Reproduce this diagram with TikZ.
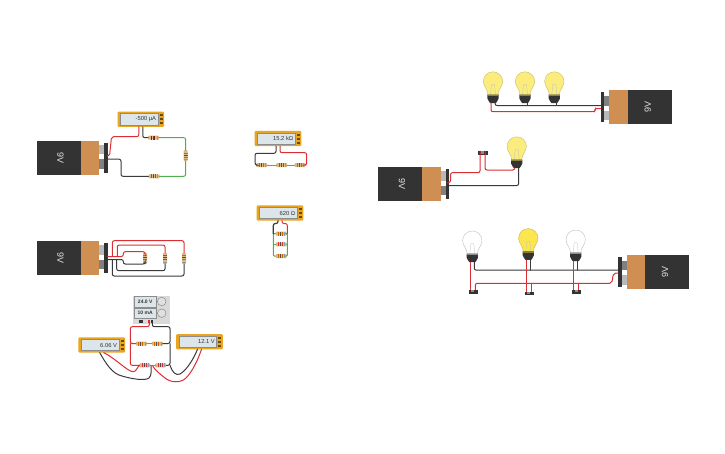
\documentclass[tikz,border=0pt]{standalone}
\usepackage{fontspec}
\setmainfont{Liberation Sans}
\definecolor{corbat}{HTML}{333333}
\definecolor{corcobre}{HTML}{CF8F52}
\definecolor{corverm}{HTML}{DC2F33}
\definecolor{corverde}{HTML}{4DAF50}
\definecolor{corfio}{HTML}{3A3A3A}
\definecolor{corlar}{HTML}{E9A51F}
\definecolor{cortela}{HTML}{DCE6EA}
\definecolor{corres}{HTML}{D9B883}
\definecolor{corluz}{HTML}{FBEC7E}
\definecolor{corforte}{HTML}{FBE64F}
\begin{document}
\begin{tikzpicture}[x=1pt,y=-1pt]

\useasboundingbox (0,0) rectangle (725,453);

\tikzstyle{fio}=[line width=1,rounded corners=2,line cap=round]
\tikzstyle{verm}=[fio,corverm]
\tikzstyle{preto}=[fio,corfio]
\tikzstyle{verde}=[fio,corverde]
\tikzstyle{visor}=[font=\fontsize{5.8}{6}\selectfont,text=black!80,inner sep=0]

\newcommand{\bateria}[4]{
    \begin{scope}[shift={(#2,#3)},rotate=#4]
        \fill[corbat] (0,-17) rectangle (44,17);
        \fill[corcobre] (44,-17) rectangle (62.5,17);
        \fill[black!28] (62.5,-13) rectangle (67.5,-3.5);
        \fill[black!50] (62.5,1.5) rectangle (67.5,11);
        \fill[corbat] (67.5,-15) rectangle (71,15);
        \coordinate (#1-pos) at (71,-1.5);
        \coordinate (#1-neg) at (71,1.5);
        \node[rotate=#4-90,text=white!90!black,font=\fontsize{9}{10}\selectfont,inner sep=0] (#1-txt) at (24,0) {9V};
    \end{scope}
}

\newcommand{\multimetro}[4]{
    \begin{scope}[shift={(#2,#3)}]
        \fill[corlar,rounded corners=1] (-23.3,-7.6) rectangle (23.3,7.6);
        \fill[cortela,draw=black!45,line width=.3] (-20.8,-5.6) rectangle (17,5.6);
        \foreach \b in {-4,0,4}
        {
            \fill[black!55!corlar] (18.8,{\b-1}) rectangle (21.8,{\b+1});
        }
        \coordinate (#1-a) at (-2,7.6);
        \coordinate (#1-b) at (2,7.6);
        \node[visor,anchor=east] (#1-txt) at (15.5,0) {#4};
    \end{scope}
}

\newcommand{\resistor}[5]{
    \begin{scope}[shift={(#2,#3)},rotate=#4]
        \fill[corres,rounded corners=.8] (-5.5,-2) rectangle (5.5,2);
        \fill[#5] (-3,-2) rectangle (-2.2,2);
        \fill[black!70] (-1,-2) rectangle (-.2,2);
        \fill[#5] (.8,-2) rectangle (1.6,2);
        \fill[black!40] (3.2,-2) rectangle (3.9,2);
        \coordinate (#1-a) at (-5.5,0);
        \coordinate (#1-b) at (5.5,0);
    \end{scope}
}

\newcommand{\lampada}[5]{
    \begin{scope}[shift={(#2,#3)}]
        \draw[fill=#4,draw=#5,line width=.4] (-5,13.5) .. controls (-5,8) and (-9.7,5) .. (-9.7,0)
            .. controls (-9.7,-5.4) and (-5.4,-9.7) .. (0,-9.7)
            .. controls (5.4,-9.7) and (9.7,-5.4) .. (9.7,0)
            .. controls (9.7,5) and (5,8) .. (5,13.5) -- cycle;
        \draw[black!25,line width=.3] (-2.5,13) -- (-1.5,3) (2.5,13) -- (1.5,3) (-1.5,3) -- (1.5,3);
        \fill[corbat] (-5.6,13) -- (5.6,13) -- (5.6,17) .. controls (5.6,19) and (3.5,19.5) .. (3,21.5) -- (-3,21.5) .. controls (-3.5,19.5) and (-5.6,19) .. (-5.6,17) -- cycle;
        \fill[#4!55!black] (-5.6,13) rectangle (5.6,14.5);
        \coordinate (#1-a) at (-2,21.5);
        \coordinate (#1-b) at (2,21.5);
    \end{scope}
}

\newcommand{\chave}[3]{
    \begin{scope}[shift={(#2,#3)}]
        \fill[corbat] (-4.6,-1.8) rectangle (4.6,1.8);
        \fill[black!45] (-2,-1.8) rectangle (1,.6);
        \coordinate (#1-a) at (-3,-1.8);
        \coordinate (#1-b) at (2,-1.8);
    \end{scope}
}

% circuito 1
\bateria{bata}{36.5}{157.7}{0}
\multimetro{ma}{140.8}{119.2}{-500 µA}
\resistor{ra}{153.5}{137.7}{0}{corverm!60!black}
\resistor{rb}{185.7}{155.7}{-90}{orange!80!black}
\resistor{rc}{154}{176.3}{0}{corverm}
\draw[verm] (bata-pos) -- ++(2,0) -- (111.5,136.7) -- (138.8,136.7) -- (ma-a);
\draw[preto] (ma-b) -- (142.8,137.7) -- (ra-a);
\draw[verde] (ra-b) -- (185.7,137.7) -- (rb-a);
\draw[verde] (rb-b) -- (185.7,176.3) -- (rc-b);
\draw[preto] (rc-a) -- (121,176.3) -- (121,159.2) -- (bata-neg);

% circuito 2
\bateria{batb}{36.5}{258}{0}
\resistor{rd}{145}{258.3}{-90}{orange!80!black}
\resistor{re}{165}{258.3}{-90}{corverm}
\resistor{rf}{184}{258.3}{-90}{orange!80!black}
\draw[verm] (batb-pos) -- (123.3,256.5) -- (123.3,251.7) -- (145,251.7) -- (rd-a);
\draw[verm] (112.3,256.5) -- (112.3,240.7) -- (184,240.7) -- (rf-a);
\draw[verm] (117.3,256.5) -- (117.3,245) -- (165,245) -- (re-a);
\draw[preto] (batb-neg) -- (123.3,259.5) -- (123.3,264) -- (145,264) -- (rd-b);
\draw[preto] (116.7,259.5) -- (116.7,270.7) -- (165,270.7) -- (re-b);
\draw[preto] (112.3,259.5) -- (112.3,276) -- (184,276) -- (rf-b);

% fonte e dois medidores
\fill[black!15] (133,295.5) rectangle (169.5,324);
\foreach \n/\y/\t in {um/301.5/24.0 V,dois/313.2/10 mA}
{
    \fill[cortela,draw=black!45,line width=.3] (134.5,{\y-5.2}) rectangle (156,{\y+5.2});
    \node[visor,font=\fontsize{5}{6}\selectfont\bfseries] (fonte-\n) at (145.2,\y) {\t};
    \fill[black!12,draw=black!45,line width=.5] (161.7,\y) circle (4.3);
}
\fill[corbat] (138.5,320.4) rectangle (143,323);
\fill[corverm] (148.2,320.4) rectangle (150.4,323);
\fill[corbat] (151.2,320.4) rectangle (153.4,323);
\coordinate (fonte-a) at (149.3,323);
\coordinate (fonte-b) at (152.3,323);

\multimetro{mb}{101.7}{345}{6.06 V}
\multimetro{mc}{199.5}{341.7}{12.1 V}
\resistor{rg}{141.3}{343.5}{0}{orange!80!black}
\resistor{rh}{157.3}{343.5}{0}{orange!80!black}
\resistor{ri}{144.7}{365.3}{0}{corverm}
\resistor{rj}{160.7}{365.3}{0}{corverm}
\draw[verde] (rg-b) -- (rh-a);
\draw[verde] (ri-b) -- (rj-a);
\draw[verm] (fonte-a) -- (149.3,326.7) -- (130.3,326.7) -- (130.3,343.5) -- (rg-a);
\draw[preto] (fonte-b) -- (152.3,326.7) -- (170,326.7) -- (170,343.5) -- (rh-b);
\draw[verm] (130.3,343.5) -- (130.3,365.3) -- (ri-a);
\draw[preto] (170,343.5) -- (170,365.3) -- (rj-b);
\draw[verm,rounded corners=0] (mb-b) .. controls (115,358) and (128,372) .. (133.3,371.7) .. controls (136,371.5) and (137,368) .. (ri-a);
\draw[preto,rounded corners=0] (mb-a) .. controls (105,362) and (112,374) .. (122,376) .. controls (132,379) and (145,381) .. (149,378) .. controls (152,375) and (151,370) .. (151,366);
\draw[preto,rounded corners=0] (mc-a) .. controls (194,358) and (187,370) .. (180,374) .. controls (176,376) and (172,372) .. (170,365.3);
\draw[verm,rounded corners=0] (mc-b) .. controls (198,360) and (192,372) .. (186,378) .. controls (181,383) and (171,383) .. (165,378) .. controls (160,374) and (155,370) .. (152.7,366);

% circuito em serie
\multimetro{md}{278}{138.5}{15.2 kΩ}
\resistor{rk}{261.7}{165}{0}{orange!80!black}
\resistor{rl}{281.7}{165}{0}{corverm}
\resistor{rm}{300}{165}{0}{orange!80!black}
\draw[verde] (rk-b) -- (rl-a) (rl-b) -- (rm-a);
\draw[preto] (md-a) -- (276,153.3) -- (255,153.3) -- (255,165) -- (rk-a);
\draw[verm] (md-b) -- (280,152.7) -- (306.7,152.7) -- (306.7,165) -- (rm-b);

% circuito em paralelo
\multimetro{me}{280}{213}{620 Ω}
\resistor{rn}{281}{233.7}{0}{orange!80!black}
\resistor{ro}{281}{244.3}{0}{corverm}
\resistor{rp}{281}{256}{0}{orange!80!black}
\draw[verde,rounded corners=1] (rn-a) -- (273.3,233.7) -- (273.3,256) -- (rp-a);
\draw[verde,rounded corners=0] (273.3,244.3) -- (ro-a);
\draw[verde,rounded corners=1] (rn-b) -- (287.3,233.7) -- (287.3,256) -- (rp-b);
\draw[verde,rounded corners=0] (287.3,244.3) -- (ro-b);
\draw[preto,line width=1.2] (me-a) -- (278,223.5) -- (273.3,223.5) -- (273.3,233.7);
\draw[verm] (me-b) -- (282,223.5) -- (287.3,223.5) -- (287.3,233.7);

% tres lampadas
\bateria{batc}{671.7}{107}{180}
\foreach \n/\x in {la/493,lb/525,lc/554.3}
{
    \lampada{\n}{\x}{81.5}{corluz}{corluz!80!black}
}
\draw[preto] (la-b) -- ++(0,2.5) -- (batc-neg);
\draw[preto] (lb-b) -- ++(0,2.5);
\draw[preto] (lc-b) -- ++(0,2.5);
\draw[verm] (la-a) -- (491,111.7) -- (595,111.7) -- (595,108.5) -- (batc-pos);

% lampada e chave
\bateria{batd}{378}{184}{0}
\chave{sa}{483}{153}
\lampada{ld}{516.7}{146.5}{corluz}{corluz!80!black}
\draw[verm] (batd-pos) -- (450.5,182.5) -- (450.5,172.7) -- (480,172.7) -- (sa-a);
\draw[verm] (sa-b) -- (485,170) -- (514.7,170) -- (ld-a);
\draw[preto] (ld-b) -- (518.7,185.5) -- (batd-neg);

% tres lampadas e chaves
\bateria{bate}{689}{271.7}{180}
\lampada{le}{472.3}{240.7}{white}{black!25}
\lampada{lf}{528.3}{238.3}{corforte}{corforte!80!black}
\lampada{lg}{575.7}{239.7}{white}{black!25}
\chave{sb}{473.3}{291.7}
\chave{sc}{529.3}{293.3}
\chave{sd}{576.7}{291.7}
\draw[preto] (le-b) -- (474.3,270.2) -- (bate-neg);
\draw[preto] (lf-b) -- ++(0,10.4);
\draw[preto] (lg-b) -- ++(0,9);
\draw[verm] (le-a) -- (sb-a);
\draw[verm] (lf-a) -- (sc-a);
\draw[verm] (lg-a) -- (sd-a);
\draw[verm] (sb-b) -- (475.3,283.3) -- (611.7,283.3) -- (613.5,273.2) -- (bate-pos);
\draw[verm] (sc-b) -- (531.3,283.3);
\draw[verm] (sd-b) -- (578.7,283.3);

\end{tikzpicture}
\end{document}
